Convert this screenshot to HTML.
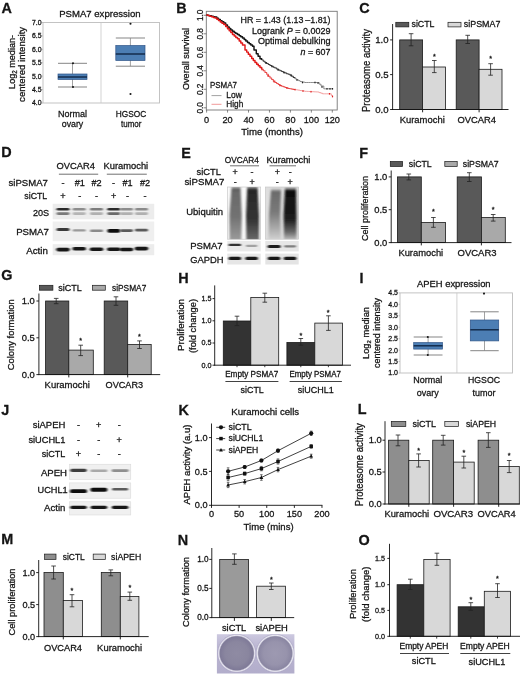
<!DOCTYPE html>
<html lang="en"><head><meta charset="utf-8"><title>Figure</title>
<style>html,body{margin:0;padding:0;background:#fff}svg{display:block}text{font-family:"Liberation Sans",sans-serif;fill:#141414;stroke:#141414;stroke-width:0.28px}</style></head>
<body>
<svg width="520" height="674" viewBox="0 0 520 674">
<rect x="0" y="0" width="520" height="674" fill="#ffffff"/>
<text x="1.50" y="13.00" font-size="14.4" font-weight="bold" fill="#000" stroke="none">A</text>
<text x="59.20" y="16.80" font-size="9.59" textLength="81.40" lengthAdjust="spacingAndGlyphs">PSMA7 expression</text>
<rect x="43.00" y="22.50" width="116.50" height="80.50" fill="#fff" stroke="#bdbdbd" stroke-width="0.9"/>
<line x1="101.00" y1="22.50" x2="101.00" y2="103.00" stroke="#c8c8c8" stroke-width="0.8"/>
<line x1="41.50" y1="22.50" x2="43.00" y2="22.50" stroke="#aaa" stroke-width="0.6"/>
<text x="41.50" y="24.90" font-size="6.87" text-anchor="end" fill="#222">7.0</text>
<line x1="41.50" y1="35.92" x2="43.00" y2="35.92" stroke="#aaa" stroke-width="0.6"/>
<text x="41.50" y="38.32" font-size="6.87" text-anchor="end" fill="#222">6.5</text>
<line x1="41.50" y1="49.33" x2="43.00" y2="49.33" stroke="#aaa" stroke-width="0.6"/>
<text x="41.50" y="51.73" font-size="6.87" text-anchor="end" fill="#222">6.0</text>
<line x1="41.50" y1="62.75" x2="43.00" y2="62.75" stroke="#aaa" stroke-width="0.6"/>
<text x="41.50" y="65.15" font-size="6.87" text-anchor="end" fill="#222">5.5</text>
<line x1="41.50" y1="76.17" x2="43.00" y2="76.17" stroke="#aaa" stroke-width="0.6"/>
<text x="41.50" y="78.57" font-size="6.87" text-anchor="end" fill="#222">5.0</text>
<line x1="41.50" y1="89.58" x2="43.00" y2="89.58" stroke="#aaa" stroke-width="0.6"/>
<text x="41.50" y="91.98" font-size="6.87" text-anchor="end" fill="#222">4.5</text>
<line x1="41.50" y1="103.00" x2="43.00" y2="103.00" stroke="#aaa" stroke-width="0.6"/>
<text x="41.50" y="105.40" font-size="6.87" text-anchor="end" fill="#222">4.0</text>
<line x1="72.50" y1="63.30" x2="72.50" y2="87.00" stroke="#8a8a8a" stroke-width="0.8"/>
<line x1="58.00" y1="63.30" x2="87.00" y2="63.30" stroke="#858585" stroke-width="1.0"/>
<line x1="58.00" y1="87.00" x2="87.00" y2="87.00" stroke="#858585" stroke-width="1.0"/>
<rect x="58.00" y="74.00" width="29.00" height="5.50" fill="#4c7eb4" stroke="#2f5488" stroke-width="0.7"/>
<line x1="58.00" y1="77.00" x2="87.00" y2="77.00" stroke="#0f2646" stroke-width="1.4"/>
<line x1="130.40" y1="38.00" x2="130.40" y2="66.20" stroke="#8a8a8a" stroke-width="0.8"/>
<line x1="115.80" y1="38.00" x2="145.00" y2="38.00" stroke="#858585" stroke-width="1.0"/>
<line x1="115.80" y1="66.20" x2="145.00" y2="66.20" stroke="#858585" stroke-width="1.0"/>
<rect x="115.80" y="45.50" width="29.20" height="15.00" fill="#4c7eb4" stroke="#2f5488" stroke-width="0.7"/>
<line x1="115.80" y1="54.00" x2="145.00" y2="54.00" stroke="#0f2646" stroke-width="1.4"/>
<circle cx="73.00" cy="63.30" r="1.05" fill="#151515"/>
<circle cx="73.00" cy="87.00" r="1.05" fill="#151515"/>
<circle cx="130.50" cy="23.80" r="1.05" fill="#151515"/>
<circle cx="130.50" cy="94.00" r="1.05" fill="#151515"/>
<text x="15.4" y="61.9" font-size="9.4" text-anchor="middle" textLength="54" lengthAdjust="spacingAndGlyphs" transform="rotate(-90 15.4 61.9)">Log<tspan font-size="6.4" dy="1.8">2</tspan><tspan dy="-1.8"> median-</tspan></text>
<text x="25.38" y="64.40" font-size="9.37" text-anchor="middle" textLength="75.00" lengthAdjust="spacingAndGlyphs" transform="rotate(-90 25.38 64.40)">centered intensity</text>
<text x="72.50" y="116.80" font-size="9.59" text-anchor="middle" textLength="29.00" lengthAdjust="spacingAndGlyphs">Normal</text>
<text x="72.50" y="127.20" font-size="9.59" text-anchor="middle" textLength="21.50" lengthAdjust="spacingAndGlyphs">ovary</text>
<text x="131.00" y="116.80" font-size="9.59" text-anchor="middle" textLength="30.50" lengthAdjust="spacingAndGlyphs">HGSOC</text>
<text x="131.20" y="127.20" font-size="9.59" text-anchor="middle" textLength="20.50" lengthAdjust="spacingAndGlyphs">tumor</text>
<text x="176.30" y="13.00" font-size="14.4" font-weight="bold" fill="#000" stroke="none">B</text>
<rect x="206.30" y="11.30" width="130.90" height="98.70" fill="#fff" stroke="#777" stroke-width="0.9"/>
<line x1="203.80" y1="15.30" x2="206.30" y2="15.30" stroke="#555" stroke-width="0.7"/>
<text x="202.76" y="15.30" font-size="9.59" text-anchor="middle" textLength="11.50" lengthAdjust="spacingAndGlyphs" transform="rotate(-90 202.76 15.30)" stroke-width="0.5">1.0</text>
<line x1="203.80" y1="33.80" x2="206.30" y2="33.80" stroke="#555" stroke-width="0.7"/>
<text x="202.76" y="33.80" font-size="9.59" text-anchor="middle" textLength="11.50" lengthAdjust="spacingAndGlyphs" transform="rotate(-90 202.76 33.80)" stroke-width="0.5">0.8</text>
<line x1="203.80" y1="52.30" x2="206.30" y2="52.30" stroke="#555" stroke-width="0.7"/>
<text x="202.76" y="52.30" font-size="9.59" text-anchor="middle" textLength="11.50" lengthAdjust="spacingAndGlyphs" transform="rotate(-90 202.76 52.30)" stroke-width="0.5">0.6</text>
<line x1="203.80" y1="70.80" x2="206.30" y2="70.80" stroke="#555" stroke-width="0.7"/>
<text x="202.76" y="70.80" font-size="9.59" text-anchor="middle" textLength="11.50" lengthAdjust="spacingAndGlyphs" transform="rotate(-90 202.76 70.80)" stroke-width="0.5">0.4</text>
<line x1="203.80" y1="89.30" x2="206.30" y2="89.30" stroke="#555" stroke-width="0.7"/>
<text x="202.76" y="89.30" font-size="9.59" text-anchor="middle" textLength="11.50" lengthAdjust="spacingAndGlyphs" transform="rotate(-90 202.76 89.30)" stroke-width="0.5">0.2</text>
<line x1="203.80" y1="107.80" x2="206.30" y2="107.80" stroke="#555" stroke-width="0.7"/>
<text x="202.76" y="107.80" font-size="9.59" text-anchor="middle" textLength="11.50" lengthAdjust="spacingAndGlyphs" transform="rotate(-90 202.76 107.80)" stroke-width="0.5">0.0</text>
<text x="189.08" y="59.00" font-size="9.37" text-anchor="middle" textLength="62.00" lengthAdjust="spacingAndGlyphs" transform="rotate(-90 189.08 59.00)">Overall survival</text>
<line x1="206.60" y1="110.00" x2="206.60" y2="112.60" stroke="#555" stroke-width="0.7"/>
<text x="206.60" y="122.50" font-size="9.16" text-anchor="middle" stroke-width="0.55">0</text>
<line x1="227.55" y1="110.00" x2="227.55" y2="112.60" stroke="#555" stroke-width="0.7"/>
<text x="227.55" y="122.50" font-size="9.16" text-anchor="middle" stroke-width="0.55">20</text>
<line x1="248.50" y1="110.00" x2="248.50" y2="112.60" stroke="#555" stroke-width="0.7"/>
<text x="248.50" y="122.50" font-size="9.16" text-anchor="middle" stroke-width="0.55">40</text>
<line x1="269.45" y1="110.00" x2="269.45" y2="112.60" stroke="#555" stroke-width="0.7"/>
<text x="269.45" y="122.50" font-size="9.16" text-anchor="middle" stroke-width="0.55">60</text>
<line x1="290.40" y1="110.00" x2="290.40" y2="112.60" stroke="#555" stroke-width="0.7"/>
<text x="290.40" y="122.50" font-size="9.16" text-anchor="middle" stroke-width="0.55">80</text>
<line x1="311.35" y1="110.00" x2="311.35" y2="112.60" stroke="#555" stroke-width="0.7"/>
<text x="311.35" y="122.50" font-size="9.16" text-anchor="middle" stroke-width="0.55">100</text>
<line x1="332.30" y1="110.00" x2="332.30" y2="112.60" stroke="#555" stroke-width="0.7"/>
<text x="332.30" y="122.50" font-size="9.16" text-anchor="middle" stroke-width="0.55">120</text>
<text x="241.30" y="134.50" font-size="9.81" stroke-width="0.55" textLength="61.70" lengthAdjust="spacingAndGlyphs">Time (months)</text>
<text x="330.50" y="23.40" font-size="9.37" text-anchor="end" textLength="90.00" lengthAdjust="spacingAndGlyphs">HR = 1.43 (1.13&#8201;&#8211;1.81)</text>
<text x="330.5" y="33.8" font-size="8.6" text-anchor="end" textLength="78.5" lengthAdjust="spacingAndGlyphs">Logrank <tspan font-style="italic">P</tspan> = 0.0029</text>
<text x="330.50" y="44.00" font-size="9.37" text-anchor="end" textLength="72.50" lengthAdjust="spacingAndGlyphs">Optimal debulking</text>
<text x="330.5" y="54.5" font-size="8.6" text-anchor="end" textLength="30" lengthAdjust="spacingAndGlyphs"><tspan font-style="italic">n</tspan> = 607</text>
<text x="210.00" y="88.20" font-size="9.37" textLength="27.00" lengthAdjust="spacingAndGlyphs">PSMA7</text>
<text x="226.30" y="98.00" font-size="9.37" textLength="15.50" lengthAdjust="spacingAndGlyphs">Low</text>
<text x="226.30" y="107.20" font-size="9.37" textLength="17.00" lengthAdjust="spacingAndGlyphs">High</text>
<line x1="211.50" y1="95.60" x2="221.50" y2="95.60" stroke="#8a8a8a" stroke-width="0.8"/>
<line x1="211.50" y1="104.30" x2="221.50" y2="104.30" stroke="#ee8080" stroke-width="0.8"/>
<path d="M206.3,15.0 H208.0 V15.4 H209.8 V15.8 H211.5 V16.2 H213.3 V16.6 H215.0 V17.0 H216.8 V18.2 H218.5 V19.4 H220.3 V20.6 H222.0 V21.8 H223.8 V23.0 H225.7 V25.0 H227.5 V27.0 H229.2 V28.4 H230.8 V29.9 H232.5 V31.3 H234.2 V32.4 H235.8 V33.4 H237.5 V34.5 H239.2 V35.7 H240.8 V36.8 H242.5 V38.0 H244.2 V39.5 H245.8 V41.0 H247.5 V42.5 H249.2 V43.8 H250.8 V45.0 H252.5 V46.3 H254.0 V50.0 H256.3 V53.8 H258.1 V56.3 H260.0 V58.8 H261.7 V60.0" fill="none" stroke="#141414" stroke-width="1.45" stroke-linejoin="round"/>
<path d="M261.7,60.0 H263.3 V61.3 H265.0 V62.5 H266.7 V63.5 H268.3 V64.5 H270.0 V65.5 H271.7 V66.3 H273.3 V67.2 H275.0 V68.0 H276.7 V68.9 H278.3 V69.9 H280.0 V70.8 H281.7 V71.5 H283.3 V72.3 H285.0 V73.0 H286.7 V73.7 H288.3 V74.3 H290.0 V75.0 H291.7 V76.3 H293.3 V77.5 H295.0 V78.8" fill="none" stroke="#3a3a3a" stroke-width="1.05" stroke-linejoin="round"/>
<path d="M295.0,78.8 H296.7 V79.7 H298.3 V80.6 H300.0 V81.5 H301.7 V81.8 H303.3 V82.2 H305.0 V82.5 H306.8 V82.5 H308.6 V82.5 H310.4 V82.5 H312.1 V82.5 H313.9 V82.5 H315.7 V82.5 H317.5 V82.5 H319.2 V84.2 H321.0 V86.0 H323.8 V88.8 H325.5 V88.8 H327.3 V88.8 H329.0 V88.8 H330.8 V88.8 H332.5 V88.8" fill="none" stroke="#6e6e6e" stroke-width="0.8" stroke-linejoin="round"/>
<path d="M206.3,15.0 H208.0 V15.6 H209.8 V16.2 H211.5 V16.8 H213.3 V17.4 H215.0 V18.0 H216.8 V19.3 H218.5 V20.6 H220.3 V21.9 H222.0 V23.2 H223.8 V24.5 H225.7 V26.6 H227.5 V28.8 H229.2 V30.7 H230.8 V32.6 H232.5 V34.5 H234.2 V35.9 H235.8 V37.4 H237.5 V38.8 H239.2 V40.9 H240.8 V42.9 H242.5 V45.0 H245.0 V50.0 H246.7 V52.1 H248.3 V54.2 H250.0 V56.3 H251.7 V58.4 H253.3 V60.4 H255.0 V62.5 H256.7 V64.2 H258.3 V65.8 H260.0 V67.5 H261.7 V69.2" fill="none" stroke="#e01818" stroke-width="1.45" stroke-linejoin="round"/>
<path d="M261.7,69.2 H263.3 V70.8 H265.0 V72.5 H266.7 V74.3 H268.3 V76.2 H270.0 V78.0 H271.7 V79.5 H273.3 V81.0 H275.0 V82.5 H276.7 V83.5 H278.3 V84.5 H280.0 V85.5 H281.7 V86.2 H283.3 V86.8 H285.0 V87.5 H286.7 V87.9 H288.3 V88.4 H290.0 V88.8 H291.7 V89.1 H293.3 V89.4 H295.0 V89.7" fill="none" stroke="#e84a4a" stroke-width="1.05" stroke-linejoin="round"/>
<path d="M295.0,89.7 H296.7 V89.9 H298.3 V90.2 H300.0 V90.5 H301.7 V90.8 H303.3 V91.0 H305.0 V91.3 H306.8 V91.4 H308.6 V91.5 H310.4 V91.6 H312.1 V91.7 H313.9 V91.8 H315.7 V91.9 H317.5 V92.0 H319.2 V92.6 H320.8 V93.2 H322.5 V93.8 H324.4 V93.8 H326.2 V93.8 H328.1 V93.8 H330.0 V93.8 H331.3 V95.5 H332.5 V97.2" fill="none" stroke="#f08c8c" stroke-width="0.8" stroke-linejoin="round"/>
<rect x="265.4" y="62.4" width="1.2" height="1.6" fill="#222"/>
<rect x="271.4" y="65.7" width="1.2" height="1.6" fill="#222"/>
<rect x="277.4" y="69.0" width="1.2" height="1.6" fill="#222"/>
<rect x="283.4" y="71.8" width="1.2" height="1.6" fill="#222"/>
<rect x="290.4" y="74.7" width="1.2" height="1.6" fill="#222"/>
<rect x="296.4" y="79.2" width="1.2" height="1.6" fill="#222"/>
<rect x="301.9" y="81.7" width="1.2" height="1.6" fill="#222"/>
<rect x="314.4" y="81.7" width="1.2" height="1.6" fill="#222"/>
<rect x="317.4" y="82.2" width="1.2" height="1.6" fill="#222"/>
<rect x="321.4" y="86.2" width="1.2" height="1.6" fill="#222"/>
<rect x="326.4" y="88.0" width="1.2" height="1.6" fill="#222"/>
<rect x="329.4" y="88.0" width="1.2" height="1.6" fill="#222"/>
<rect x="331.9" y="88.0" width="1.2" height="1.6" fill="#222"/>
<rect x="261.4" y="68.7" width="1.2" height="1.6" fill="#e02020"/>
<rect x="267.4" y="75.0" width="1.2" height="1.6" fill="#e02020"/>
<rect x="273.4" y="80.8" width="1.2" height="1.6" fill="#e02020"/>
<rect x="279.4" y="84.7" width="1.2" height="1.6" fill="#e02020"/>
<rect x="286.4" y="87.2" width="1.2" height="1.6" fill="#e02020"/>
<rect x="294.4" y="88.8" width="1.2" height="1.6" fill="#e02020"/>
<rect x="302.4" y="90.2" width="1.2" height="1.6" fill="#e02020"/>
<rect x="310.4" y="90.9" width="1.2" height="1.6" fill="#e02020"/>
<rect x="328.9" y="93.0" width="1.2" height="1.6" fill="#e02020"/>
<rect x="331.9" y="95.7" width="1.2" height="1.6" fill="#e02020"/>
<text x="359.30" y="13.30" font-size="14.4" font-weight="bold" fill="#000" stroke="none">C</text>
<rect x="399.70" y="39.90" width="22.90" height="69.60" fill="#595959" stroke="#1a1a1a" stroke-width="0.8"/>
<rect x="422.60" y="67.00" width="22.90" height="42.50" fill="#d8d8d8" stroke="#1a1a1a" stroke-width="0.8"/>
<rect x="456.20" y="39.90" width="22.90" height="69.60" fill="#595959" stroke="#1a1a1a" stroke-width="0.8"/>
<rect x="479.10" y="69.30" width="22.90" height="40.20" fill="#d8d8d8" stroke="#1a1a1a" stroke-width="0.8"/>
<line x1="411.10" y1="33.70" x2="411.10" y2="45.80" stroke="#222" stroke-width="0.8"/>
<line x1="408.80" y1="33.70" x2="413.40" y2="33.70" stroke="#222" stroke-width="0.8"/>
<line x1="408.80" y1="45.80" x2="413.40" y2="45.80" stroke="#222" stroke-width="0.8"/>
<line x1="434.30" y1="60.50" x2="434.30" y2="72.60" stroke="#222" stroke-width="0.8"/>
<line x1="432.00" y1="60.50" x2="436.60" y2="60.50" stroke="#222" stroke-width="0.8"/>
<line x1="432.00" y1="72.60" x2="436.60" y2="72.60" stroke="#222" stroke-width="0.8"/>
<line x1="467.70" y1="35.30" x2="467.70" y2="43.50" stroke="#222" stroke-width="0.8"/>
<line x1="465.40" y1="35.30" x2="470.00" y2="35.30" stroke="#222" stroke-width="0.8"/>
<line x1="465.40" y1="43.50" x2="470.00" y2="43.50" stroke="#222" stroke-width="0.8"/>
<line x1="490.60" y1="63.70" x2="490.60" y2="75.20" stroke="#222" stroke-width="0.8"/>
<line x1="488.30" y1="63.70" x2="492.90" y2="63.70" stroke="#222" stroke-width="0.8"/>
<line x1="488.30" y1="75.20" x2="492.90" y2="75.20" stroke="#222" stroke-width="0.8"/>
<text x="434.30" y="59.09" font-size="7.19" text-anchor="middle">*</text>
<text x="490.60" y="61.29" font-size="7.19" text-anchor="middle">*</text>
<line x1="422.60" y1="109.50" x2="422.60" y2="112.30" stroke="#111" stroke-width="0.9"/>
<line x1="479.10" y1="109.50" x2="479.10" y2="112.30" stroke="#111" stroke-width="0.9"/>
<line x1="392.60" y1="24.00" x2="392.60" y2="109.95" stroke="#111" stroke-width="0.9"/>
<line x1="392.15" y1="109.50" x2="508.50" y2="109.50" stroke="#111" stroke-width="0.9"/>
<line x1="390.10" y1="39.90" x2="392.60" y2="39.90" stroke="#111" stroke-width="0.9"/>
<text x="388.60" y="43.07" font-size="9.59" text-anchor="end" stroke-width="0.55">1.0</text>
<line x1="390.10" y1="74.60" x2="392.60" y2="74.60" stroke="#111" stroke-width="0.9"/>
<text x="388.60" y="77.77" font-size="9.59" text-anchor="end" stroke-width="0.55">0.5</text>
<line x1="390.10" y1="109.50" x2="392.60" y2="109.50" stroke="#111" stroke-width="0.9"/>
<text x="388.60" y="112.67" font-size="9.59" text-anchor="end" stroke-width="0.55">0.0</text>
<rect x="395.80" y="22.30" width="13.00" height="4.60" fill="#595959" stroke="#1a1a1a" stroke-width="0.7"/>
<text x="411.50" y="27.20" font-size="9.37" stroke-width="0.42" textLength="23.00" lengthAdjust="spacingAndGlyphs">siCTL</text>
<rect x="448.00" y="22.30" width="13.00" height="4.60" fill="#d8d8d8" stroke="#1a1a1a" stroke-width="0.7"/>
<text x="463.80" y="27.20" font-size="9.37" stroke-width="0.42" textLength="36.60" lengthAdjust="spacingAndGlyphs">siPSMA7</text>
<text x="369.99" y="70.50" font-size="11.12" text-anchor="middle" textLength="83.00" lengthAdjust="spacingAndGlyphs" transform="rotate(-90 369.99 70.50)">Proteasome activity</text>
<text x="399.70" y="123.30" font-size="9.59" textLength="45.10" lengthAdjust="spacingAndGlyphs">Kuramochi</text>
<text x="457.50" y="123.30" font-size="9.59" textLength="38.50" lengthAdjust="spacingAndGlyphs">OVCAR4</text>
<text x="1.30" y="157.20" font-size="14.4" font-weight="bold" fill="#000" stroke="none">D</text>
<text x="56.60" y="168.70" font-size="9.37" textLength="38.40" lengthAdjust="spacingAndGlyphs">OVCAR4</text>
<text x="103.60" y="168.70" font-size="9.37" textLength="44.60" lengthAdjust="spacingAndGlyphs">Kuramochi</text>
<line x1="58.90" y1="174.20" x2="98.20" y2="174.20" stroke="#333" stroke-width="0.7"/>
<line x1="106.80" y1="174.20" x2="146.80" y2="174.20" stroke="#333" stroke-width="0.7"/>
<text x="8.50" y="186.40" font-size="9.59" stroke-width="0.42" textLength="39.40" lengthAdjust="spacingAndGlyphs">siPSMA7</text>
<text x="24.30" y="198.90" font-size="9.59" stroke-width="0.42" textLength="22.90" lengthAdjust="spacingAndGlyphs">siCTL</text>
<text x="63.00" y="185.90" font-size="9.16" text-anchor="middle" stroke-width="0.55">-</text>
<text x="79.80" y="185.90" font-size="9.16" text-anchor="middle" stroke-width="0.55">#1</text>
<text x="96.50" y="185.90" font-size="9.16" text-anchor="middle" stroke-width="0.55">#2</text>
<text x="113.60" y="185.90" font-size="9.16" text-anchor="middle" stroke-width="0.55">-</text>
<text x="127.60" y="185.90" font-size="9.16" text-anchor="middle" stroke-width="0.55">#1</text>
<text x="145.00" y="185.90" font-size="9.16" text-anchor="middle" stroke-width="0.55">#2</text>
<text x="63.00" y="198.60" font-size="9.16" text-anchor="middle" stroke-width="0.55">+</text>
<text x="79.80" y="198.60" font-size="9.16" text-anchor="middle" stroke-width="0.55">-</text>
<text x="96.50" y="198.60" font-size="9.16" text-anchor="middle" stroke-width="0.55">-</text>
<text x="113.60" y="198.60" font-size="9.16" text-anchor="middle" stroke-width="0.55">+</text>
<text x="127.60" y="198.60" font-size="9.16" text-anchor="middle" stroke-width="0.55">-</text>
<text x="145.00" y="198.60" font-size="9.16" text-anchor="middle" stroke-width="0.55">-</text>
<defs><filter id="b1" x="-20%" y="-100%" width="140%" height="300%"><feGaussianBlur stdDeviation="0.9 0.7"/></filter><filter id="b2" x="-30%" y="-10%" width="160%" height="120%"><feGaussianBlur stdDeviation="1.05 1.6"/></filter><filter id="b3"><feGaussianBlur stdDeviation="0.7"/></filter></defs>
<rect x="52.70" y="203.80" width="101.50" height="15.50" fill="#ececec" stroke="none" stroke-width="0.8"/>
<rect x="56.50" y="208.00" width="13.00" height="2.60" rx="1.30" fill="#2a2a2a" opacity="1" filter="url(#b1)"/>
<rect x="56.50" y="212.30" width="13.00" height="2.60" rx="1.30" fill="#7a7a7a" opacity="1" filter="url(#b1)"/>
<rect x="72.70" y="208.00" width="13.00" height="2.60" rx="1.30" fill="#8c8c8c" opacity="1" filter="url(#b1)"/>
<rect x="72.70" y="212.30" width="13.00" height="2.60" rx="1.30" fill="#b4b4b4" opacity="1" filter="url(#b1)"/>
<rect x="90.00" y="208.00" width="13.00" height="2.60" rx="1.30" fill="#7c7c7c" opacity="1" filter="url(#b1)"/>
<rect x="90.00" y="212.30" width="13.00" height="2.60" rx="1.30" fill="#b0b0b0" opacity="1" filter="url(#b1)"/>
<rect x="107.30" y="208.00" width="13.00" height="2.60" rx="1.30" fill="#2a2a2a" opacity="1" filter="url(#b1)"/>
<rect x="107.30" y="212.30" width="13.00" height="2.60" rx="1.30" fill="#6a6a6a" opacity="1" filter="url(#b1)"/>
<rect x="120.00" y="208.00" width="13.00" height="2.60" rx="1.30" fill="#8c8c8c" opacity="1" filter="url(#b1)"/>
<rect x="120.00" y="212.30" width="13.00" height="2.60" rx="1.30" fill="#b0b0b0" opacity="1" filter="url(#b1)"/>
<rect x="135.00" y="208.00" width="13.00" height="2.60" rx="1.30" fill="#8a8a8a" opacity="1" filter="url(#b1)"/>
<rect x="135.00" y="212.30" width="13.00" height="2.60" rx="1.30" fill="#b0b0b0" opacity="1" filter="url(#b1)"/>
<text x="33.00" y="216.40" font-size="9.59" stroke-width="0.42" textLength="16.20" lengthAdjust="spacingAndGlyphs">20S</text>
<rect x="52.70" y="221.50" width="101.50" height="19.70" fill="#efefef" stroke="none" stroke-width="0.8"/>
<rect x="56.50" y="228.10" width="13.00" height="3.00" rx="1.50" fill="#3a3a3a" opacity="1" filter="url(#b1)"/>
<rect x="72.70" y="229.20" width="13.00" height="2.40" rx="1.20" fill="#9a9a9a" opacity="1" filter="url(#b1)"/>
<rect x="90.00" y="229.60" width="13.00" height="2.40" rx="1.20" fill="#8a8a8a" opacity="1" filter="url(#b1)"/>
<rect x="107.30" y="228.90" width="13.00" height="3.80" rx="1.90" fill="#0c0c0c" opacity="1" filter="url(#b1)"/>
<rect x="120.00" y="229.20" width="13.00" height="2.80" rx="1.40" fill="#5a5a5a" opacity="1" filter="url(#b1)"/>
<rect x="135.00" y="228.80" width="13.00" height="2.80" rx="1.40" fill="#5a5a5a" opacity="1" filter="url(#b1)"/>
<text x="16.20" y="235.20" font-size="9.59" stroke-width="0.42" textLength="32.70" lengthAdjust="spacingAndGlyphs">PSMA7</text>
<rect x="52.70" y="244.20" width="101.50" height="11.00" fill="#ececec" stroke="none" stroke-width="0.8"/>
<rect x="56.25" y="247.80" width="13.50" height="3.60" rx="1.80" fill="#161616" opacity="1" filter="url(#b1)"/>
<rect x="72.45" y="247.00" width="13.50" height="3.60" rx="1.80" fill="#161616" opacity="1" filter="url(#b1)"/>
<rect x="89.75" y="247.40" width="13.50" height="3.60" rx="1.80" fill="#161616" opacity="1" filter="url(#b1)"/>
<rect x="107.05" y="247.40" width="13.50" height="3.60" rx="1.80" fill="#161616" opacity="1" filter="url(#b1)"/>
<rect x="119.75" y="247.70" width="13.50" height="3.60" rx="1.80" fill="#161616" opacity="1" filter="url(#b1)"/>
<rect x="134.75" y="246.80" width="13.50" height="3.60" rx="1.80" fill="#161616" opacity="1" filter="url(#b1)"/>
<text x="26.20" y="253.50" font-size="9.59" stroke-width="0.42" textLength="21.70" lengthAdjust="spacingAndGlyphs">Actin</text>
<text x="181.30" y="158.00" font-size="14.4" font-weight="bold" fill="#000" stroke="none">E</text>
<text x="224.80" y="162.90" font-size="9.05" textLength="34.10" lengthAdjust="spacingAndGlyphs">OVCAR4</text>
<text x="266.40" y="163.10" font-size="9.05" textLength="44.00" lengthAdjust="spacingAndGlyphs">Kuramochi</text>
<line x1="230.00" y1="165.80" x2="259.00" y2="165.80" stroke="#333" stroke-width="0.7"/>
<line x1="269.50" y1="165.80" x2="296.00" y2="165.80" stroke="#333" stroke-width="0.7"/>
<text x="196.60" y="174.90" font-size="9.37" stroke-width="0.42" textLength="24.30" lengthAdjust="spacingAndGlyphs">siCTL</text>
<text x="184.50" y="185.30" font-size="9.37" stroke-width="0.42" textLength="39.80" lengthAdjust="spacingAndGlyphs">siPSMA7</text>
<text x="235.20" y="174.70" font-size="8.94" text-anchor="middle" stroke-width="0.55">+</text>
<text x="252.00" y="174.70" font-size="8.94" text-anchor="middle" stroke-width="0.55">-</text>
<text x="277.30" y="174.70" font-size="8.94" text-anchor="middle" stroke-width="0.55">+</text>
<text x="290.20" y="174.70" font-size="8.94" text-anchor="middle" stroke-width="0.55">-</text>
<text x="235.20" y="185.10" font-size="8.94" text-anchor="middle" stroke-width="0.55">-</text>
<text x="252.00" y="185.10" font-size="8.94" text-anchor="middle" stroke-width="0.55">+</text>
<text x="277.30" y="185.10" font-size="8.94" text-anchor="middle" stroke-width="0.55">-</text>
<text x="290.20" y="185.10" font-size="8.94" text-anchor="middle" stroke-width="0.55">+</text>
<defs><linearGradient id="u1" x1="0" y1="0" x2="0" y2="1"><stop offset="0" stop-color="#4a4a4a"/><stop offset="0.08" stop-color="#6a6a6a"/><stop offset="0.55" stop-color="#727272"/><stop offset="1" stop-color="#9c9c9c"/></linearGradient><linearGradient id="u2" x1="0" y1="0" x2="0" y2="1"><stop offset="0" stop-color="#262626"/><stop offset="0.6" stop-color="#343434"/><stop offset="1" stop-color="#6c6c6c"/></linearGradient><linearGradient id="u3" x1="0" y1="0" x2="0" y2="1"><stop offset="0" stop-color="#6a6a6a"/><stop offset="0.45" stop-color="#7a7a7a"/><stop offset="0.8" stop-color="#b0b0b0"/><stop offset="1" stop-color="#d2d2d2"/></linearGradient><linearGradient id="u4" x1="0" y1="0" x2="0" y2="1"><stop offset="0" stop-color="#0e0e0e"/><stop offset="0.6" stop-color="#1c1c1c"/><stop offset="0.85" stop-color="#6a6a6a"/><stop offset="1" stop-color="#c0c0c0"/></linearGradient><clipPath id="cu1"><rect x="227.3" y="187" width="33.4" height="52.2"/></clipPath><clipPath id="cu2"><rect x="265.3" y="187" width="33.4" height="52.2"/></clipPath></defs>
<rect x="227.30" y="187.00" width="33.40" height="52.20" fill="#fafafa" stroke="#c4c4c4" stroke-width="0.6"/>
<g clip-path="url(#cu1)"><path d="M231.5,187.5 L240.5,187.5 L241.8,215 L241.3,241 L229.6,241 L229.4,215 Z" fill="url(#u1)" filter="url(#b2)"/><path d="M247.2,187.5 L257.6,187.5 L259,215 L259,241 L246.4,241 L246,215 Z" fill="url(#u2)" filter="url(#b2)"/></g>
<rect x="265.30" y="187.00" width="33.40" height="52.20" fill="#dedede" stroke="#c4c4c4" stroke-width="0.6"/>
<g clip-path="url(#cu2)"><path d="M271,190 L281,190 L280.3,215 L281,240 L268.5,240 L269,215 Z" fill="url(#u3)" filter="url(#b2)"/><path d="M285,189 L296,189 L296.5,215 L296.5,240 L284,240 L283.6,215 Z" fill="url(#u4)" filter="url(#b2)"/></g>
<text x="186.20" y="214.80" font-size="9.59" stroke-width="0.42" textLength="36.90" lengthAdjust="spacingAndGlyphs">Ubiquitin</text>
<rect x="227.30" y="240.90" width="33.40" height="10.50" fill="#e9e9e9" stroke="none" stroke-width="0.8"/>
<rect x="265.30" y="240.90" width="33.40" height="10.50" fill="#e6e6e6" stroke="none" stroke-width="0.8"/>
<rect x="228.55" y="243.70" width="12.50" height="2.40" rx="1.20" fill="#333" opacity="1" filter="url(#b1)"/>
<rect x="245.85" y="244.70" width="11.50" height="2.20" rx="1.10" fill="#a2a2a2" opacity="1" filter="url(#b1)"/>
<rect x="267.60" y="245.10" width="13.00" height="3.00" rx="1.50" fill="#1c1c1c" opacity="1" filter="url(#b1)"/>
<rect x="284.10" y="245.20" width="12.00" height="2.20" rx="1.10" fill="#808080" opacity="1" filter="url(#b1)"/>
<text x="190.20" y="249.40" font-size="9.59" stroke-width="0.42" textLength="32.40" lengthAdjust="spacingAndGlyphs">PSMA7</text>
<rect x="227.30" y="253.60" width="33.40" height="10.90" fill="#e6e6e6" stroke="none" stroke-width="0.8"/>
<rect x="265.30" y="253.60" width="33.40" height="10.90" fill="#e4e4e4" stroke="none" stroke-width="0.8"/>
<rect x="228.55" y="256.80" width="12.50" height="3.20" rx="1.60" fill="#161616" opacity="1" filter="url(#b1)"/>
<rect x="245.35" y="256.80" width="12.50" height="3.20" rx="1.60" fill="#161616" opacity="1" filter="url(#b1)"/>
<rect x="267.85" y="256.80" width="12.50" height="3.20" rx="1.60" fill="#161616" opacity="1" filter="url(#b1)"/>
<rect x="283.85" y="256.80" width="12.50" height="3.20" rx="1.60" fill="#161616" opacity="1" filter="url(#b1)"/>
<text x="190.20" y="263.20" font-size="9.59" stroke-width="0.42" textLength="33.30" lengthAdjust="spacingAndGlyphs">GAPDH</text>
<text x="359.30" y="157.80" font-size="14.4" font-weight="bold" fill="#000" stroke="none">F</text>
<rect x="397.40" y="176.90" width="23.90" height="65.70" fill="#595959" stroke="#1a1a1a" stroke-width="0.8"/>
<rect x="421.30" y="222.40" width="24.20" height="20.20" fill="#a9a9a9" stroke="#1a1a1a" stroke-width="0.8"/>
<rect x="457.20" y="176.90" width="24.20" height="65.70" fill="#595959" stroke="#1a1a1a" stroke-width="0.8"/>
<rect x="481.40" y="217.50" width="23.90" height="25.10" fill="#a9a9a9" stroke="#1a1a1a" stroke-width="0.8"/>
<line x1="408.80" y1="174.00" x2="408.80" y2="179.90" stroke="#222" stroke-width="0.8"/>
<line x1="406.50" y1="174.00" x2="411.10" y2="174.00" stroke="#222" stroke-width="0.8"/>
<line x1="406.50" y1="179.90" x2="411.10" y2="179.90" stroke="#222" stroke-width="0.8"/>
<line x1="433.40" y1="217.50" x2="433.40" y2="227.30" stroke="#222" stroke-width="0.8"/>
<line x1="431.10" y1="217.50" x2="435.70" y2="217.50" stroke="#222" stroke-width="0.8"/>
<line x1="431.10" y1="227.30" x2="435.70" y2="227.30" stroke="#222" stroke-width="0.8"/>
<line x1="469.30" y1="172.70" x2="469.30" y2="181.50" stroke="#222" stroke-width="0.8"/>
<line x1="467.00" y1="172.70" x2="471.60" y2="172.70" stroke="#222" stroke-width="0.8"/>
<line x1="467.00" y1="181.50" x2="471.60" y2="181.50" stroke="#222" stroke-width="0.8"/>
<line x1="493.20" y1="214.50" x2="493.20" y2="221.10" stroke="#222" stroke-width="0.8"/>
<line x1="490.90" y1="214.50" x2="495.50" y2="214.50" stroke="#222" stroke-width="0.8"/>
<line x1="490.90" y1="221.10" x2="495.50" y2="221.10" stroke="#222" stroke-width="0.8"/>
<text x="433.40" y="214.39" font-size="7.19" text-anchor="middle">*</text>
<text x="493.20" y="212.09" font-size="7.19" text-anchor="middle">*</text>
<line x1="421.30" y1="242.60" x2="421.30" y2="245.40" stroke="#111" stroke-width="0.9"/>
<line x1="481.40" y1="242.60" x2="481.40" y2="245.40" stroke="#111" stroke-width="0.9"/>
<line x1="391.20" y1="170.50" x2="391.20" y2="243.05" stroke="#111" stroke-width="0.9"/>
<line x1="390.75" y1="242.60" x2="511.50" y2="242.60" stroke="#111" stroke-width="0.9"/>
<line x1="388.70" y1="176.90" x2="391.20" y2="176.90" stroke="#111" stroke-width="0.9"/>
<text x="387.30" y="180.00" font-size="9.37" text-anchor="end" stroke-width="0.55">1.0</text>
<line x1="388.70" y1="209.70" x2="391.20" y2="209.70" stroke="#111" stroke-width="0.9"/>
<text x="387.30" y="212.80" font-size="9.37" text-anchor="end" stroke-width="0.55">0.5</text>
<line x1="388.70" y1="242.60" x2="391.20" y2="242.60" stroke="#111" stroke-width="0.9"/>
<text x="387.30" y="245.70" font-size="9.37" text-anchor="end" stroke-width="0.55">0.0</text>
<rect x="390.30" y="161.50" width="12.30" height="5.00" fill="#595959" stroke="#1a1a1a" stroke-width="0.7"/>
<text x="408.80" y="167.00" font-size="9.16" stroke-width="0.55" textLength="22.90" lengthAdjust="spacingAndGlyphs">siCTL</text>
<rect x="444.80" y="161.50" width="12.40" height="5.00" fill="#a9a9a9" stroke="#1a1a1a" stroke-width="0.7"/>
<text x="462.80" y="167.00" font-size="9.16" stroke-width="0.55" textLength="35.90" lengthAdjust="spacingAndGlyphs">siPSMA7</text>
<text x="368.16" y="208.60" font-size="9.59" text-anchor="middle" textLength="65.00" lengthAdjust="spacingAndGlyphs" transform="rotate(-90 368.16 208.60)">Cell proliferation</text>
<text x="398.40" y="256.10" font-size="9.59" textLength="44.80" lengthAdjust="spacingAndGlyphs">Kuramochi</text>
<text x="457.50" y="256.10" font-size="9.59" textLength="39.00" lengthAdjust="spacingAndGlyphs">OVCAR3</text>
<text x="1.20" y="280.10" font-size="14.4" font-weight="bold" fill="#000" stroke="none">G</text>
<rect x="45.60" y="301.00" width="23.20" height="73.60" fill="#595959" stroke="#1a1a1a" stroke-width="0.8"/>
<rect x="68.80" y="350.10" width="24.50" height="24.50" fill="#a9a9a9" stroke="#1a1a1a" stroke-width="0.8"/>
<rect x="104.20" y="301.00" width="23.50" height="73.60" fill="#595959" stroke="#1a1a1a" stroke-width="0.8"/>
<rect x="127.70" y="344.50" width="23.50" height="30.10" fill="#a9a9a9" stroke="#1a1a1a" stroke-width="0.8"/>
<line x1="56.20" y1="298.40" x2="56.20" y2="303.70" stroke="#222" stroke-width="0.8"/>
<line x1="53.90" y1="298.40" x2="58.50" y2="298.40" stroke="#222" stroke-width="0.8"/>
<line x1="53.90" y1="303.70" x2="58.50" y2="303.70" stroke="#222" stroke-width="0.8"/>
<line x1="80.70" y1="345.20" x2="80.70" y2="355.60" stroke="#222" stroke-width="0.8"/>
<line x1="78.40" y1="345.20" x2="83.00" y2="345.20" stroke="#222" stroke-width="0.8"/>
<line x1="78.40" y1="355.60" x2="83.00" y2="355.60" stroke="#222" stroke-width="0.8"/>
<line x1="116.00" y1="296.80" x2="116.00" y2="305.30" stroke="#222" stroke-width="0.8"/>
<line x1="113.70" y1="296.80" x2="118.30" y2="296.80" stroke="#222" stroke-width="0.8"/>
<line x1="113.70" y1="305.30" x2="118.30" y2="305.30" stroke="#222" stroke-width="0.8"/>
<line x1="139.50" y1="340.90" x2="139.50" y2="348.50" stroke="#222" stroke-width="0.8"/>
<line x1="137.20" y1="340.90" x2="141.80" y2="340.90" stroke="#222" stroke-width="0.8"/>
<line x1="137.20" y1="348.50" x2="141.80" y2="348.50" stroke="#222" stroke-width="0.8"/>
<text x="80.70" y="342.69" font-size="7.19" text-anchor="middle">*</text>
<text x="139.50" y="338.79" font-size="7.19" text-anchor="middle">*</text>
<line x1="68.80" y1="374.60" x2="68.80" y2="377.40" stroke="#111" stroke-width="0.9"/>
<line x1="127.70" y1="374.60" x2="127.70" y2="377.40" stroke="#111" stroke-width="0.9"/>
<line x1="38.90" y1="293.50" x2="38.90" y2="375.05" stroke="#111" stroke-width="0.9"/>
<line x1="38.45" y1="374.60" x2="160.20" y2="374.60" stroke="#111" stroke-width="0.9"/>
<line x1="36.40" y1="301.00" x2="38.90" y2="301.00" stroke="#111" stroke-width="0.9"/>
<text x="34.80" y="304.10" font-size="9.37" text-anchor="end" stroke-width="0.55">1.0</text>
<line x1="36.40" y1="337.80" x2="38.90" y2="337.80" stroke="#111" stroke-width="0.9"/>
<text x="34.80" y="340.90" font-size="9.37" text-anchor="end" stroke-width="0.55">0.5</text>
<line x1="36.40" y1="374.60" x2="38.90" y2="374.60" stroke="#111" stroke-width="0.9"/>
<text x="34.80" y="377.70" font-size="9.37" text-anchor="end" stroke-width="0.55">0.0</text>
<rect x="39.40" y="285.30" width="13.50" height="4.90" fill="#595959" stroke="#1a1a1a" stroke-width="0.7"/>
<text x="58.20" y="290.50" font-size="9.16" stroke-width="0.55" textLength="23.50" lengthAdjust="spacingAndGlyphs">siCTL</text>
<rect x="92.50" y="285.30" width="12.80" height="4.90" fill="#a9a9a9" stroke="#1a1a1a" stroke-width="0.7"/>
<text x="112.00" y="290.50" font-size="9.16" stroke-width="0.55" textLength="34.30" lengthAdjust="spacingAndGlyphs">siPSMA7</text>
<text x="14.26" y="334.80" font-size="9.59" text-anchor="middle" textLength="71.00" lengthAdjust="spacingAndGlyphs" transform="rotate(-90 14.26 334.80)">Colony formation</text>
<text x="44.60" y="388.00" font-size="9.59" textLength="45.30" lengthAdjust="spacingAndGlyphs">Kuramochi</text>
<text x="105.60" y="388.00" font-size="9.59" textLength="37.50" lengthAdjust="spacingAndGlyphs">OVCAR3</text>
<text x="178.30" y="283.20" font-size="14.4" font-weight="bold" fill="#000" stroke="none">H</text>
<rect x="223.30" y="321.00" width="27.50" height="44.20" fill="#333" stroke="#1a1a1a" stroke-width="0.8"/>
<rect x="250.80" y="297.40" width="27.90" height="67.80" fill="#d8d8d8" stroke="#1a1a1a" stroke-width="0.8"/>
<rect x="286.90" y="342.50" width="27.90" height="22.70" fill="#333" stroke="#1a1a1a" stroke-width="0.8"/>
<rect x="314.80" y="323.10" width="27.80" height="42.10" fill="#d8d8d8" stroke="#1a1a1a" stroke-width="0.8"/>
<line x1="237.00" y1="316.20" x2="237.00" y2="325.60" stroke="#222" stroke-width="0.8"/>
<line x1="234.70" y1="316.20" x2="239.30" y2="316.20" stroke="#222" stroke-width="0.8"/>
<line x1="234.70" y1="325.60" x2="239.30" y2="325.60" stroke="#222" stroke-width="0.8"/>
<line x1="264.80" y1="293.20" x2="264.80" y2="302.20" stroke="#222" stroke-width="0.8"/>
<line x1="262.50" y1="293.20" x2="267.10" y2="293.20" stroke="#222" stroke-width="0.8"/>
<line x1="262.50" y1="302.20" x2="267.10" y2="302.20" stroke="#222" stroke-width="0.8"/>
<line x1="300.80" y1="338.50" x2="300.80" y2="345.20" stroke="#222" stroke-width="0.8"/>
<line x1="298.50" y1="338.50" x2="303.10" y2="338.50" stroke="#222" stroke-width="0.8"/>
<line x1="298.50" y1="345.20" x2="303.10" y2="345.20" stroke="#222" stroke-width="0.8"/>
<line x1="328.40" y1="315.80" x2="328.40" y2="330.40" stroke="#222" stroke-width="0.8"/>
<line x1="326.10" y1="315.80" x2="330.70" y2="315.80" stroke="#222" stroke-width="0.8"/>
<line x1="326.10" y1="330.40" x2="330.70" y2="330.40" stroke="#222" stroke-width="0.8"/>
<text x="300.80" y="338.39" font-size="7.19" text-anchor="middle">*</text>
<text x="328.20" y="314.99" font-size="7.19" text-anchor="middle">*</text>
<line x1="214.70" y1="285.40" x2="214.70" y2="365.65" stroke="#111" stroke-width="0.9"/>
<line x1="214.25" y1="365.20" x2="351.00" y2="365.20" stroke="#111" stroke-width="0.9"/>
<line x1="212.50" y1="298.60" x2="214.70" y2="298.60" stroke="#111" stroke-width="0.9"/>
<text x="211.60" y="300.98" font-size="7.19" text-anchor="end" stroke-width="0.55">1.5</text>
<line x1="212.50" y1="320.80" x2="214.70" y2="320.80" stroke="#111" stroke-width="0.9"/>
<text x="211.60" y="323.18" font-size="7.19" text-anchor="end" stroke-width="0.55">1.0</text>
<line x1="212.50" y1="343.00" x2="214.70" y2="343.00" stroke="#111" stroke-width="0.9"/>
<text x="211.60" y="345.38" font-size="7.19" text-anchor="end" stroke-width="0.55">0.5</text>
<line x1="212.50" y1="365.20" x2="214.70" y2="365.20" stroke="#111" stroke-width="0.9"/>
<text x="211.60" y="367.58" font-size="7.19" text-anchor="end" stroke-width="0.55">0.0</text>
<line x1="237.00" y1="365.20" x2="237.00" y2="367.20" stroke="#111" stroke-width="0.8"/>
<line x1="264.80" y1="365.20" x2="264.80" y2="367.20" stroke="#111" stroke-width="0.8"/>
<line x1="300.80" y1="365.20" x2="300.80" y2="367.20" stroke="#111" stroke-width="0.8"/>
<line x1="328.40" y1="365.20" x2="328.40" y2="367.20" stroke="#111" stroke-width="0.8"/>
<text x="183.61" y="325.00" font-size="9.16" text-anchor="middle" textLength="52.00" lengthAdjust="spacingAndGlyphs" transform="rotate(-90 183.61 325.00)">Proliferation</text>
<text x="195.61" y="326.00" font-size="9.16" text-anchor="middle" textLength="54.00" lengthAdjust="spacingAndGlyphs" transform="rotate(-90 195.61 326.00)">(fold change)</text>
<text x="225.20" y="377.20" font-size="8.28" textLength="53.00" lengthAdjust="spacingAndGlyphs">Empty PSMA7</text>
<line x1="225.40" y1="381.50" x2="278.40" y2="381.50" stroke="#111" stroke-width="0.8"/>
<text x="252.20" y="392.70" font-size="9.16" text-anchor="middle" textLength="23.20" lengthAdjust="spacingAndGlyphs">siCTL</text>
<text x="289.40" y="377.20" font-size="8.28" textLength="51.50" lengthAdjust="spacingAndGlyphs">Empty PSMA7</text>
<line x1="289.60" y1="381.50" x2="341.90" y2="381.50" stroke="#111" stroke-width="0.8"/>
<text x="315.80" y="392.70" font-size="9.16" text-anchor="middle" textLength="35.90" lengthAdjust="spacingAndGlyphs">siUCHL1</text>
<text x="359.60" y="282.60" font-size="14.4" font-weight="bold" fill="#000" stroke="none">I</text>
<text x="417.00" y="287.10" font-size="9.59" textLength="73.60" lengthAdjust="spacingAndGlyphs">APEH expression</text>
<rect x="400.00" y="292.90" width="112.50" height="80.10" fill="#fff" stroke="#bdbdbd" stroke-width="0.9"/>
<line x1="456.90" y1="292.90" x2="456.90" y2="373.00" stroke="#c8c8c8" stroke-width="0.8"/>
<line x1="398.50" y1="292.90" x2="400.00" y2="292.90" stroke="#aaa" stroke-width="0.6"/>
<text x="398.00" y="295.30" font-size="6.98" text-anchor="end" fill="#222">4.5</text>
<line x1="398.50" y1="304.34" x2="400.00" y2="304.34" stroke="#aaa" stroke-width="0.6"/>
<text x="398.00" y="306.74" font-size="6.98" text-anchor="end" fill="#222">4.0</text>
<line x1="398.50" y1="315.79" x2="400.00" y2="315.79" stroke="#aaa" stroke-width="0.6"/>
<text x="398.00" y="318.19" font-size="6.98" text-anchor="end" fill="#222">3.5</text>
<line x1="398.50" y1="327.23" x2="400.00" y2="327.23" stroke="#aaa" stroke-width="0.6"/>
<text x="398.00" y="329.63" font-size="6.98" text-anchor="end" fill="#222">3.0</text>
<line x1="398.50" y1="338.67" x2="400.00" y2="338.67" stroke="#aaa" stroke-width="0.6"/>
<text x="398.00" y="341.07" font-size="6.98" text-anchor="end" fill="#222">2.5</text>
<line x1="398.50" y1="350.11" x2="400.00" y2="350.11" stroke="#aaa" stroke-width="0.6"/>
<text x="398.00" y="352.51" font-size="6.98" text-anchor="end" fill="#222">2.0</text>
<line x1="398.50" y1="361.56" x2="400.00" y2="361.56" stroke="#aaa" stroke-width="0.6"/>
<text x="398.00" y="363.96" font-size="6.98" text-anchor="end" fill="#222">1.5</text>
<line x1="398.50" y1="373.00" x2="400.00" y2="373.00" stroke="#aaa" stroke-width="0.6"/>
<text x="398.00" y="375.40" font-size="6.98" text-anchor="end" fill="#222">1.0</text>
<line x1="428.10" y1="337.00" x2="428.10" y2="355.00" stroke="#8a8a8a" stroke-width="0.8"/>
<line x1="413.70" y1="337.00" x2="442.50" y2="337.00" stroke="#858585" stroke-width="1.0"/>
<line x1="413.70" y1="355.00" x2="442.50" y2="355.00" stroke="#858585" stroke-width="1.0"/>
<rect x="413.70" y="342.60" width="28.80" height="6.50" fill="#4c7eb4" stroke="#2f5488" stroke-width="0.7"/>
<line x1="413.70" y1="345.80" x2="442.50" y2="345.80" stroke="#0f2646" stroke-width="1.4"/>
<line x1="484.50" y1="311.80" x2="484.50" y2="350.70" stroke="#8a8a8a" stroke-width="0.8"/>
<line x1="470.30" y1="311.80" x2="498.70" y2="311.80" stroke="#858585" stroke-width="1.0"/>
<line x1="470.30" y1="350.70" x2="498.70" y2="350.70" stroke="#858585" stroke-width="1.0"/>
<rect x="470.30" y="320.00" width="28.40" height="20.90" fill="#4c7eb4" stroke="#2f5488" stroke-width="0.7"/>
<line x1="470.30" y1="329.80" x2="498.70" y2="329.80" stroke="#0f2646" stroke-width="1.4"/>
<circle cx="427.80" cy="337.00" r="1.05" fill="#151515"/>
<circle cx="427.80" cy="355.00" r="1.05" fill="#151515"/>
<circle cx="484.00" cy="293.60" r="1.05" fill="#151515"/>
<text x="369.3" y="333" font-size="9.2" stroke-width="0.5" text-anchor="middle" textLength="52" lengthAdjust="spacingAndGlyphs" transform="rotate(-90 369.3 333)">Log<tspan font-size="5.8" dy="1.8">2</tspan><tspan dy="-1.8"> median</tspan></text>
<text x="380.11" y="333.00" font-size="9.16" text-anchor="middle" textLength="70.00" lengthAdjust="spacingAndGlyphs" transform="rotate(-90 380.11 333.00)">centered intensity</text>
<text x="427.80" y="382.90" font-size="9.59" text-anchor="middle" textLength="29.00" lengthAdjust="spacingAndGlyphs">Normal</text>
<text x="427.80" y="396.00" font-size="9.59" text-anchor="middle" textLength="22.00" lengthAdjust="spacingAndGlyphs">ovary</text>
<text x="484.00" y="382.90" font-size="9.59" text-anchor="middle" textLength="32.00" lengthAdjust="spacingAndGlyphs">HGSOC</text>
<text x="484.00" y="396.00" font-size="9.59" text-anchor="middle" textLength="23.00" lengthAdjust="spacingAndGlyphs">tumor</text>
<text x="1.30" y="414.80" font-size="14.4" font-weight="bold" fill="#000" stroke="none">J</text>
<text x="32.70" y="427.90" font-size="9.37" stroke-width="0.42" textLength="32.70" lengthAdjust="spacingAndGlyphs">siAPEH</text>
<text x="28.40" y="443.30" font-size="9.37" stroke-width="0.42" textLength="37.00" lengthAdjust="spacingAndGlyphs">siUCHL1</text>
<text x="41.80" y="457.30" font-size="9.37" stroke-width="0.42" textLength="23.60" lengthAdjust="spacingAndGlyphs">siCTL</text>
<text x="78.50" y="427.60" font-size="9.16" text-anchor="middle" stroke-width="0.55">-</text>
<text x="98.70" y="427.60" font-size="9.16" text-anchor="middle" stroke-width="0.55">+</text>
<text x="119.30" y="427.60" font-size="9.16" text-anchor="middle" stroke-width="0.55">-</text>
<text x="78.50" y="443.00" font-size="9.16" text-anchor="middle" stroke-width="0.55">-</text>
<text x="98.70" y="443.00" font-size="9.16" text-anchor="middle" stroke-width="0.55">-</text>
<text x="119.30" y="443.00" font-size="9.16" text-anchor="middle" stroke-width="0.55">+</text>
<text x="78.50" y="457.00" font-size="9.16" text-anchor="middle" stroke-width="0.55">+</text>
<text x="98.70" y="457.00" font-size="9.16" text-anchor="middle" stroke-width="0.55">-</text>
<text x="119.30" y="457.00" font-size="9.16" text-anchor="middle" stroke-width="0.55">-</text>
<rect x="69.60" y="464.20" width="61.20" height="15.40" fill="#f0f0f0" stroke="#d6d6d6" stroke-width="0.5"/>
<rect x="70.25" y="468.70" width="16.50" height="3.20" rx="1.60" fill="#3c3c3c" opacity="1" filter="url(#b1)"/>
<rect x="90.40" y="469.60" width="17.00" height="2.40" rx="1.20" fill="#a8a8a8" opacity="1" filter="url(#b1)"/>
<rect x="111.60" y="469.30" width="17.00" height="2.60" rx="1.30" fill="#8e8e8e" opacity="1" filter="url(#b1)"/>
<text x="40.90" y="475.90" font-size="9.37" stroke-width="0.42" textLength="26.10" lengthAdjust="spacingAndGlyphs">APEH</text>
<rect x="69.60" y="482.90" width="61.20" height="15.30" fill="#f0f0f0" stroke="#d6d6d6" stroke-width="0.5"/>
<rect x="70.00" y="489.30" width="17.00" height="3.80" rx="1.90" fill="#0c0c0c" opacity="1" filter="url(#b1)"/>
<rect x="90.40" y="487.80" width="17.00" height="4.00" rx="2.00" fill="#0c0c0c" opacity="1" filter="url(#b1)"/>
<rect x="112.10" y="488.00" width="16.00" height="2.40" rx="1.20" fill="#5c5c5c" opacity="1" filter="url(#b1)"/>
<text x="37.60" y="493.30" font-size="9.37" stroke-width="0.42" textLength="30.10" lengthAdjust="spacingAndGlyphs">UCHL1</text>
<rect x="69.60" y="501.80" width="61.20" height="13.20" fill="#f0f0f0" stroke="#d6d6d6" stroke-width="0.5"/>
<rect x="70.25" y="505.70" width="16.50" height="3.20" rx="1.60" fill="#141414" opacity="1" filter="url(#b1)"/>
<rect x="90.65" y="505.70" width="16.50" height="3.20" rx="1.60" fill="#141414" opacity="1" filter="url(#b1)"/>
<rect x="111.85" y="505.70" width="16.50" height="3.20" rx="1.60" fill="#141414" opacity="1" filter="url(#b1)"/>
<text x="44.10" y="511.20" font-size="9.37" stroke-width="0.42" textLength="21.30" lengthAdjust="spacingAndGlyphs">Actin</text>
<text x="178.60" y="415.00" font-size="14.4" font-weight="bold" fill="#000" stroke="none">K</text>
<text x="231.30" y="414.80" font-size="9.37" textLength="67.80" lengthAdjust="spacingAndGlyphs">Kuramochi cells</text>
<line x1="211.50" y1="423.50" x2="211.50" y2="505.75" stroke="#111" stroke-width="0.9"/>
<line x1="211.05" y1="505.30" x2="322.40" y2="505.30" stroke="#111" stroke-width="0.9"/>
<line x1="209.00" y1="437.60" x2="211.50" y2="437.60" stroke="#111" stroke-width="0.9"/>
<text x="207.60" y="440.70" font-size="9.16" text-anchor="end" stroke-width="0.55">1.0</text>
<line x1="209.00" y1="471.40" x2="211.50" y2="471.40" stroke="#111" stroke-width="0.9"/>
<text x="207.60" y="474.50" font-size="9.16" text-anchor="end" stroke-width="0.55">0.5</text>
<line x1="209.00" y1="505.30" x2="211.50" y2="505.30" stroke="#111" stroke-width="0.9"/>
<text x="207.60" y="508.40" font-size="9.16" text-anchor="end" stroke-width="0.55">0.0</text>
<line x1="211.50" y1="505.30" x2="211.50" y2="507.90" stroke="#111" stroke-width="0.9"/>
<text x="211.50" y="517.20" font-size="9.16" text-anchor="middle" stroke-width="0.42">0</text>
<line x1="239.12" y1="505.30" x2="239.12" y2="507.90" stroke="#111" stroke-width="0.9"/>
<text x="239.12" y="517.20" font-size="9.16" text-anchor="middle" stroke-width="0.42">50</text>
<line x1="266.74" y1="505.30" x2="266.74" y2="507.90" stroke="#111" stroke-width="0.9"/>
<text x="266.74" y="517.20" font-size="9.16" text-anchor="middle" stroke-width="0.42">100</text>
<line x1="294.36" y1="505.30" x2="294.36" y2="507.90" stroke="#111" stroke-width="0.9"/>
<text x="294.36" y="517.20" font-size="9.16" text-anchor="middle" stroke-width="0.42">150</text>
<line x1="321.98" y1="505.30" x2="321.98" y2="507.90" stroke="#111" stroke-width="0.9"/>
<text x="321.98" y="517.20" font-size="9.16" text-anchor="middle" stroke-width="0.42">200</text>
<text x="243.60" y="530.20" font-size="9.59" stroke-width="0.42" textLength="50.00" lengthAdjust="spacingAndGlyphs">Time (mins)</text>
<text x="190.38" y="464.50" font-size="9.37" text-anchor="middle" textLength="80.00" lengthAdjust="spacingAndGlyphs" transform="rotate(-90 190.38 464.50)">APEH activity (a.u)</text>
<polyline points="228.1,471.3 244.7,467.0 261.4,460.5 278.0,450.7 311.2,433.3" fill="none" stroke="#111" stroke-width="0.8"/>
<line x1="228.10" y1="467.80" x2="228.10" y2="474.80" stroke="#222" stroke-width="0.6"/>
<line x1="226.80" y1="467.80" x2="229.40" y2="467.80" stroke="#222" stroke-width="0.6"/>
<line x1="226.80" y1="474.80" x2="229.40" y2="474.80" stroke="#222" stroke-width="0.6"/>
<circle cx="228.1" cy="471.3" r="2.1" fill="#111"/>
<line x1="244.70" y1="465.50" x2="244.70" y2="468.50" stroke="#222" stroke-width="0.6"/>
<line x1="243.40" y1="465.50" x2="246.00" y2="465.50" stroke="#222" stroke-width="0.6"/>
<line x1="243.40" y1="468.50" x2="246.00" y2="468.50" stroke="#222" stroke-width="0.6"/>
<circle cx="244.7" cy="467.0" r="2.1" fill="#111"/>
<line x1="261.40" y1="459.00" x2="261.40" y2="462.00" stroke="#222" stroke-width="0.6"/>
<line x1="260.10" y1="459.00" x2="262.70" y2="459.00" stroke="#222" stroke-width="0.6"/>
<line x1="260.10" y1="462.00" x2="262.70" y2="462.00" stroke="#222" stroke-width="0.6"/>
<circle cx="261.4" cy="460.5" r="2.1" fill="#111"/>
<line x1="278.00" y1="449.20" x2="278.00" y2="452.20" stroke="#222" stroke-width="0.6"/>
<line x1="276.70" y1="449.20" x2="279.30" y2="449.20" stroke="#222" stroke-width="0.6"/>
<line x1="276.70" y1="452.20" x2="279.30" y2="452.20" stroke="#222" stroke-width="0.6"/>
<circle cx="278.0" cy="450.7" r="2.1" fill="#111"/>
<line x1="311.20" y1="431.10" x2="311.20" y2="435.50" stroke="#222" stroke-width="0.6"/>
<line x1="309.90" y1="431.10" x2="312.50" y2="431.10" stroke="#222" stroke-width="0.6"/>
<line x1="309.90" y1="435.50" x2="312.50" y2="435.50" stroke="#222" stroke-width="0.6"/>
<circle cx="311.2" cy="433.3" r="2.1" fill="#111"/>
<polyline points="228.1,477.5 244.7,473.6 261.4,468.6 278.0,461.5 311.2,446.4" fill="none" stroke="#111" stroke-width="0.8"/>
<line x1="228.10" y1="474.30" x2="228.10" y2="480.70" stroke="#222" stroke-width="0.6"/>
<line x1="226.80" y1="474.30" x2="229.40" y2="474.30" stroke="#222" stroke-width="0.6"/>
<line x1="226.80" y1="480.70" x2="229.40" y2="480.70" stroke="#222" stroke-width="0.6"/>
<rect x="226.35" y="475.75" width="3.5" height="3.5" fill="#111"/>
<line x1="244.70" y1="472.10" x2="244.70" y2="475.10" stroke="#222" stroke-width="0.6"/>
<line x1="243.40" y1="472.10" x2="246.00" y2="472.10" stroke="#222" stroke-width="0.6"/>
<line x1="243.40" y1="475.10" x2="246.00" y2="475.10" stroke="#222" stroke-width="0.6"/>
<rect x="242.95" y="471.85" width="3.5" height="3.5" fill="#111"/>
<line x1="261.40" y1="466.40" x2="261.40" y2="470.80" stroke="#222" stroke-width="0.6"/>
<line x1="260.10" y1="466.40" x2="262.70" y2="466.40" stroke="#222" stroke-width="0.6"/>
<line x1="260.10" y1="470.80" x2="262.70" y2="470.80" stroke="#222" stroke-width="0.6"/>
<rect x="259.65" y="466.85" width="3.5" height="3.5" fill="#111"/>
<line x1="278.00" y1="458.90" x2="278.00" y2="464.10" stroke="#222" stroke-width="0.6"/>
<line x1="276.70" y1="458.90" x2="279.30" y2="458.90" stroke="#222" stroke-width="0.6"/>
<line x1="276.70" y1="464.10" x2="279.30" y2="464.10" stroke="#222" stroke-width="0.6"/>
<rect x="276.25" y="459.75" width="3.5" height="3.5" fill="#111"/>
<line x1="311.20" y1="444.60" x2="311.20" y2="448.20" stroke="#222" stroke-width="0.6"/>
<line x1="309.90" y1="444.60" x2="312.50" y2="444.60" stroke="#222" stroke-width="0.6"/>
<line x1="309.90" y1="448.20" x2="312.50" y2="448.20" stroke="#222" stroke-width="0.6"/>
<rect x="309.45" y="444.65" width="3.5" height="3.5" fill="#111"/>
<polyline points="228.1,485.0 244.7,481.7 261.4,477.5 278.0,469.6 311.2,456.2" fill="none" stroke="#111" stroke-width="0.8"/>
<line x1="228.10" y1="482.40" x2="228.10" y2="487.60" stroke="#222" stroke-width="0.6"/>
<line x1="226.80" y1="482.40" x2="229.40" y2="482.40" stroke="#222" stroke-width="0.6"/>
<line x1="226.80" y1="487.60" x2="229.40" y2="487.60" stroke="#222" stroke-width="0.6"/>
<path d="M228.1,483.1 L230.0,486.4 L226.2,486.4 Z" fill="#111"/>
<line x1="244.70" y1="479.50" x2="244.70" y2="483.90" stroke="#222" stroke-width="0.6"/>
<line x1="243.40" y1="479.50" x2="246.00" y2="479.50" stroke="#222" stroke-width="0.6"/>
<line x1="243.40" y1="483.90" x2="246.00" y2="483.90" stroke="#222" stroke-width="0.6"/>
<path d="M244.7,479.8 L246.6,483.1 L242.8,483.1 Z" fill="#111"/>
<line x1="261.40" y1="474.70" x2="261.40" y2="480.30" stroke="#222" stroke-width="0.6"/>
<line x1="260.10" y1="474.70" x2="262.70" y2="474.70" stroke="#222" stroke-width="0.6"/>
<line x1="260.10" y1="480.30" x2="262.70" y2="480.30" stroke="#222" stroke-width="0.6"/>
<path d="M261.4,475.6 L263.3,478.9 L259.5,478.9 Z" fill="#111"/>
<line x1="278.00" y1="467.40" x2="278.00" y2="471.80" stroke="#222" stroke-width="0.6"/>
<line x1="276.70" y1="467.40" x2="279.30" y2="467.40" stroke="#222" stroke-width="0.6"/>
<line x1="276.70" y1="471.80" x2="279.30" y2="471.80" stroke="#222" stroke-width="0.6"/>
<path d="M278.0,467.7 L279.9,471.0 L276.1,471.0 Z" fill="#111"/>
<line x1="311.20" y1="454.20" x2="311.20" y2="458.20" stroke="#222" stroke-width="0.6"/>
<line x1="309.90" y1="454.20" x2="312.50" y2="454.20" stroke="#222" stroke-width="0.6"/>
<line x1="309.90" y1="458.20" x2="312.50" y2="458.20" stroke="#222" stroke-width="0.6"/>
<path d="M311.2,454.3 L313.1,457.6 L309.3,457.6 Z" fill="#111"/>
<line x1="216.20" y1="427.30" x2="225.20" y2="427.30" stroke="#111" stroke-width="0.8"/>
<circle cx="221.0" cy="427.3" r="2.1" fill="#111"/>
<text x="228.60" y="430.10" font-size="8.94" stroke-width="0.55" textLength="23.10" lengthAdjust="spacingAndGlyphs">siCTL</text>
<line x1="216.20" y1="438.60" x2="225.20" y2="438.60" stroke="#111" stroke-width="0.8"/>
<rect x="219.25" y="436.85" width="3.5" height="3.5" fill="#111"/>
<text x="228.60" y="441.40" font-size="8.94" stroke-width="0.55" textLength="34.60" lengthAdjust="spacingAndGlyphs">siUCHL1</text>
<line x1="216.20" y1="450.00" x2="225.20" y2="450.00" stroke="#111" stroke-width="0.8"/>
<path d="M221.0,448.1 L222.9,451.4 L219.1,451.4 Z" fill="#111"/>
<text x="228.60" y="452.80" font-size="8.94" stroke-width="0.55" textLength="29.70" lengthAdjust="spacingAndGlyphs">siAPEH</text>
<text x="357.80" y="413.90" font-size="14.4" font-weight="bold" fill="#000" stroke="none">L</text>
<rect x="388.60" y="440.20" width="20.20" height="63.80" fill="#8e8e8e" stroke="#1a1a1a" stroke-width="0.8"/>
<rect x="408.80" y="460.50" width="20.40" height="43.50" fill="#d8d8d8" stroke="#1a1a1a" stroke-width="0.8"/>
<rect x="432.70" y="440.20" width="20.90" height="63.80" fill="#8e8e8e" stroke="#1a1a1a" stroke-width="0.8"/>
<rect x="453.60" y="462.10" width="20.60" height="41.90" fill="#d8d8d8" stroke="#1a1a1a" stroke-width="0.8"/>
<rect x="478.10" y="440.20" width="20.60" height="63.80" fill="#8e8e8e" stroke="#1a1a1a" stroke-width="0.8"/>
<rect x="498.70" y="466.40" width="20.60" height="37.60" fill="#d8d8d8" stroke="#1a1a1a" stroke-width="0.8"/>
<line x1="398.00" y1="435.00" x2="398.00" y2="445.80" stroke="#222" stroke-width="0.8"/>
<line x1="395.70" y1="435.00" x2="400.30" y2="435.00" stroke="#222" stroke-width="0.8"/>
<line x1="395.70" y1="445.80" x2="400.30" y2="445.80" stroke="#222" stroke-width="0.8"/>
<line x1="418.60" y1="453.90" x2="418.60" y2="467.00" stroke="#222" stroke-width="0.8"/>
<line x1="416.30" y1="453.90" x2="420.90" y2="453.90" stroke="#222" stroke-width="0.8"/>
<line x1="416.30" y1="467.00" x2="420.90" y2="467.00" stroke="#222" stroke-width="0.8"/>
<line x1="443.20" y1="435.30" x2="443.20" y2="445.10" stroke="#222" stroke-width="0.8"/>
<line x1="440.90" y1="435.30" x2="445.50" y2="435.30" stroke="#222" stroke-width="0.8"/>
<line x1="440.90" y1="445.10" x2="445.50" y2="445.10" stroke="#222" stroke-width="0.8"/>
<line x1="463.80" y1="456.20" x2="463.80" y2="468.00" stroke="#222" stroke-width="0.8"/>
<line x1="461.50" y1="456.20" x2="466.10" y2="456.20" stroke="#222" stroke-width="0.8"/>
<line x1="461.50" y1="468.00" x2="466.10" y2="468.00" stroke="#222" stroke-width="0.8"/>
<line x1="488.30" y1="432.70" x2="488.30" y2="447.40" stroke="#222" stroke-width="0.8"/>
<line x1="486.00" y1="432.70" x2="490.60" y2="432.70" stroke="#222" stroke-width="0.8"/>
<line x1="486.00" y1="447.40" x2="490.60" y2="447.40" stroke="#222" stroke-width="0.8"/>
<line x1="509.20" y1="460.50" x2="509.20" y2="472.60" stroke="#222" stroke-width="0.8"/>
<line x1="506.90" y1="460.50" x2="511.50" y2="460.50" stroke="#222" stroke-width="0.8"/>
<line x1="506.90" y1="472.60" x2="511.50" y2="472.60" stroke="#222" stroke-width="0.8"/>
<text x="418.60" y="453.09" font-size="7.19" text-anchor="middle">*</text>
<text x="463.80" y="454.79" font-size="7.19" text-anchor="middle">*</text>
<text x="509.20" y="457.99" font-size="7.19" text-anchor="middle">*</text>
<line x1="408.80" y1="504.00" x2="408.80" y2="506.80" stroke="#111" stroke-width="0.9"/>
<line x1="453.60" y1="504.00" x2="453.60" y2="506.80" stroke="#111" stroke-width="0.9"/>
<line x1="498.70" y1="504.00" x2="498.70" y2="506.80" stroke="#111" stroke-width="0.9"/>
<line x1="385.00" y1="421.20" x2="385.00" y2="504.45" stroke="#111" stroke-width="0.9"/>
<line x1="384.55" y1="504.00" x2="520.00" y2="504.00" stroke="#111" stroke-width="0.9"/>
<line x1="382.50" y1="440.20" x2="385.00" y2="440.20" stroke="#111" stroke-width="0.9"/>
<text x="381.80" y="443.30" font-size="9.37" text-anchor="end" stroke-width="0.55">1.0</text>
<line x1="382.50" y1="472.00" x2="385.00" y2="472.00" stroke="#111" stroke-width="0.9"/>
<text x="381.80" y="475.10" font-size="9.37" text-anchor="end" stroke-width="0.55">0.5</text>
<line x1="382.50" y1="504.00" x2="385.00" y2="504.00" stroke="#111" stroke-width="0.9"/>
<text x="381.80" y="507.10" font-size="9.37" text-anchor="end" stroke-width="0.55">0.0</text>
<rect x="391.30" y="421.40" width="14.50" height="5.20" fill="#8e8e8e" stroke="#1a1a1a" stroke-width="0.7"/>
<text x="412.40" y="427.00" font-size="9.16" stroke-width="0.55" textLength="23.60" lengthAdjust="spacingAndGlyphs">siCTL</text>
<rect x="444.80" y="421.40" width="13.70" height="5.20" fill="#d8d8d8" stroke="#1a1a1a" stroke-width="0.7"/>
<text x="466.00" y="427.00" font-size="9.16" stroke-width="0.55" textLength="30.10" lengthAdjust="spacingAndGlyphs">siAPEH</text>
<text x="363.31" y="464.70" font-size="10.03" text-anchor="middle" textLength="83.00" lengthAdjust="spacingAndGlyphs" transform="rotate(-90 363.31 464.70)">Proteasome activity</text>
<text x="384.40" y="517.30" font-size="9.59" textLength="44.80" lengthAdjust="spacingAndGlyphs">Kuramochi</text>
<text x="433.40" y="517.30" font-size="9.59" textLength="39.80" lengthAdjust="spacingAndGlyphs">OVCAR3</text>
<text x="477.50" y="517.30" font-size="9.59" textLength="38.20" lengthAdjust="spacingAndGlyphs">OVCAR4</text>
<text x="1.20" y="544.40" font-size="14.4" font-weight="bold" fill="#000" stroke="none">M</text>
<rect x="44.00" y="572.60" width="19.30" height="64.00" fill="#8e8e8e" stroke="#1a1a1a" stroke-width="0.8"/>
<rect x="63.30" y="600.50" width="19.10" height="36.10" fill="#d8d8d8" stroke="#1a1a1a" stroke-width="0.8"/>
<rect x="101.30" y="572.60" width="19.00" height="64.00" fill="#8e8e8e" stroke="#1a1a1a" stroke-width="0.8"/>
<rect x="120.30" y="596.60" width="18.60" height="40.00" fill="#d8d8d8" stroke="#1a1a1a" stroke-width="0.8"/>
<line x1="53.60" y1="566.00" x2="53.60" y2="579.00" stroke="#222" stroke-width="0.8"/>
<line x1="51.30" y1="566.00" x2="55.90" y2="566.00" stroke="#222" stroke-width="0.8"/>
<line x1="51.30" y1="579.00" x2="55.90" y2="579.00" stroke="#222" stroke-width="0.8"/>
<line x1="72.00" y1="594.70" x2="72.00" y2="606.80" stroke="#222" stroke-width="0.8"/>
<line x1="69.70" y1="594.70" x2="74.30" y2="594.70" stroke="#222" stroke-width="0.8"/>
<line x1="69.70" y1="606.80" x2="74.30" y2="606.80" stroke="#222" stroke-width="0.8"/>
<line x1="110.80" y1="569.90" x2="110.80" y2="575.80" stroke="#222" stroke-width="0.8"/>
<line x1="108.50" y1="569.90" x2="113.10" y2="569.90" stroke="#222" stroke-width="0.8"/>
<line x1="108.50" y1="575.80" x2="113.10" y2="575.80" stroke="#222" stroke-width="0.8"/>
<line x1="129.80" y1="592.10" x2="129.80" y2="600.30" stroke="#222" stroke-width="0.8"/>
<line x1="127.50" y1="592.10" x2="132.10" y2="592.10" stroke="#222" stroke-width="0.8"/>
<line x1="127.50" y1="600.30" x2="132.10" y2="600.30" stroke="#222" stroke-width="0.8"/>
<text x="71.80" y="592.89" font-size="7.19" text-anchor="middle">*</text>
<text x="129.80" y="590.29" font-size="7.19" text-anchor="middle">*</text>
<line x1="63.30" y1="636.60" x2="63.30" y2="639.40" stroke="#111" stroke-width="0.9"/>
<line x1="120.30" y1="636.60" x2="120.30" y2="639.40" stroke="#111" stroke-width="0.9"/>
<line x1="38.70" y1="560.00" x2="38.70" y2="637.05" stroke="#111" stroke-width="0.9"/>
<line x1="38.25" y1="636.60" x2="148.70" y2="636.60" stroke="#111" stroke-width="0.9"/>
<line x1="36.20" y1="572.60" x2="38.70" y2="572.60" stroke="#111" stroke-width="0.9"/>
<text x="35.20" y="575.62" font-size="9.16" text-anchor="end" stroke-width="0.55">1.0</text>
<line x1="36.20" y1="604.60" x2="38.70" y2="604.60" stroke="#111" stroke-width="0.9"/>
<text x="35.20" y="607.62" font-size="9.16" text-anchor="end" stroke-width="0.55">0.5</text>
<line x1="36.20" y1="636.60" x2="38.70" y2="636.60" stroke="#111" stroke-width="0.9"/>
<text x="35.20" y="639.62" font-size="9.16" text-anchor="end" stroke-width="0.55">0.0</text>
<rect x="44.60" y="554.10" width="11.40" height="5.30" fill="#8e8e8e" stroke="#1a1a1a" stroke-width="0.7"/>
<text x="62.70" y="559.50" font-size="9.16" stroke-width="0.55" textLength="22.10" lengthAdjust="spacingAndGlyphs">siCTL</text>
<rect x="93.20" y="554.10" width="12.10" height="5.30" fill="#d8d8d8" stroke="#1a1a1a" stroke-width="0.7"/>
<text x="111.10" y="559.50" font-size="9.16" stroke-width="0.55" textLength="30.10" lengthAdjust="spacingAndGlyphs">siAPEH</text>
<text x="14.76" y="602.00" font-size="9.59" text-anchor="middle" textLength="67.00" lengthAdjust="spacingAndGlyphs" transform="rotate(-90 14.76 602.00)">Cell proliferation</text>
<text x="44.00" y="650.60" font-size="9.59" textLength="38.00" lengthAdjust="spacingAndGlyphs">OVCAR4</text>
<text x="97.10" y="650.60" font-size="9.59" textLength="45.10" lengthAdjust="spacingAndGlyphs">Kuramochi</text>
<text x="177.80" y="545.20" font-size="14.4" font-weight="bold" fill="#000" stroke="none">N</text>
<line x1="234.40" y1="617.60" x2="234.40" y2="620.90" stroke="#111" stroke-width="0.9"/>
<line x1="271.30" y1="617.60" x2="271.30" y2="620.90" stroke="#111" stroke-width="0.9"/>
<rect x="219.70" y="559.40" width="28.80" height="58.20" fill="#9a9a9a" stroke="#1a1a1a" stroke-width="0.8"/>
<rect x="256.60" y="586.20" width="28.80" height="31.40" fill="#d8d8d8" stroke="#1a1a1a" stroke-width="0.8"/>
<line x1="234.40" y1="553.90" x2="234.40" y2="564.30" stroke="#222" stroke-width="0.8"/>
<line x1="232.10" y1="553.90" x2="236.70" y2="553.90" stroke="#222" stroke-width="0.8"/>
<line x1="232.10" y1="564.30" x2="236.70" y2="564.30" stroke="#222" stroke-width="0.8"/>
<line x1="271.30" y1="583.00" x2="271.30" y2="589.50" stroke="#222" stroke-width="0.8"/>
<line x1="269.00" y1="583.00" x2="273.60" y2="583.00" stroke="#222" stroke-width="0.8"/>
<line x1="269.00" y1="589.50" x2="273.60" y2="589.50" stroke="#222" stroke-width="0.8"/>
<text x="271.30" y="582.49" font-size="7.19" text-anchor="middle">*</text>
<line x1="211.80" y1="548.00" x2="211.80" y2="618.05" stroke="#111" stroke-width="0.9"/>
<line x1="211.35" y1="617.60" x2="294.20" y2="617.60" stroke="#111" stroke-width="0.9"/>
<line x1="209.30" y1="559.40" x2="211.80" y2="559.40" stroke="#111" stroke-width="0.9"/>
<text x="208.60" y="562.10" font-size="8.18" text-anchor="end" stroke-width="0.55">1.0</text>
<line x1="209.30" y1="588.40" x2="211.80" y2="588.40" stroke="#111" stroke-width="0.9"/>
<text x="208.60" y="591.10" font-size="8.18" text-anchor="end" stroke-width="0.55">0.5</text>
<line x1="209.30" y1="617.60" x2="211.80" y2="617.60" stroke="#111" stroke-width="0.9"/>
<text x="208.60" y="620.30" font-size="8.18" text-anchor="end" stroke-width="0.55">0.0</text>
<text x="189.01" y="592.00" font-size="9.16" text-anchor="middle" textLength="70.00" lengthAdjust="spacingAndGlyphs" transform="rotate(-90 189.01 592.00)">Colony formation</text>
<text x="221.90" y="630.60" font-size="9.37" stroke-width="0.55" textLength="24.40" lengthAdjust="spacingAndGlyphs">siCTL</text>
<text x="255.40" y="630.60" font-size="9.37" stroke-width="0.55" textLength="32.30" lengthAdjust="spacingAndGlyphs">siAPEH</text>
<defs><radialGradient id="w1" cx="0.5" cy="0.5" r="0.5"><stop offset="0" stop-color="#8f8ba3"/><stop offset="0.6" stop-color="#8a869f"/><stop offset="0.86" stop-color="#7f7a98"/><stop offset="0.93" stop-color="#e9e7f2"/><stop offset="1" stop-color="#a9a4c2"/></radialGradient><radialGradient id="w2" cx="0.5" cy="0.5" r="0.5"><stop offset="0" stop-color="#9d99b1"/><stop offset="0.6" stop-color="#9793ac"/><stop offset="0.86" stop-color="#8a86a2"/><stop offset="0.93" stop-color="#ecebf4"/><stop offset="1" stop-color="#aaa5c3"/></radialGradient><linearGradient id="wb" x1="0" y1="0" x2="0" y2="1"><stop offset="0" stop-color="#cdc9e0"/><stop offset="0.3" stop-color="#bcb7d3"/><stop offset="1" stop-color="#b2adcb"/></linearGradient><clipPath id="cw"><rect x="216.9" y="634.2" width="77.5" height="39.3"/></clipPath></defs>
<rect x="216.90" y="634.20" width="77.50" height="39.30" fill="url(#wb)" stroke="none" stroke-width="0.8"/>
<g clip-path="url(#cw)" filter="url(#b3)"><circle cx="236.7" cy="653.3" r="19.3" fill="url(#w1)"/><circle cx="275.2" cy="653.3" r="19.3" fill="url(#w2)"/></g>
<text x="358.40" y="545.20" font-size="14.4" font-weight="bold" fill="#000" stroke="none">O</text>
<rect x="397.10" y="584.70" width="26.70" height="51.60" fill="#333" stroke="#1a1a1a" stroke-width="0.8"/>
<rect x="423.80" y="559.40" width="26.30" height="76.90" fill="#d8d8d8" stroke="#1a1a1a" stroke-width="0.8"/>
<rect x="458.20" y="606.80" width="26.10" height="29.50" fill="#333" stroke="#1a1a1a" stroke-width="0.8"/>
<rect x="484.30" y="591.30" width="26.30" height="45.00" fill="#d8d8d8" stroke="#1a1a1a" stroke-width="0.8"/>
<line x1="410.30" y1="579.20" x2="410.30" y2="589.50" stroke="#222" stroke-width="0.8"/>
<line x1="408.00" y1="579.20" x2="412.60" y2="579.20" stroke="#222" stroke-width="0.8"/>
<line x1="408.00" y1="589.50" x2="412.60" y2="589.50" stroke="#222" stroke-width="0.8"/>
<line x1="436.90" y1="553.20" x2="436.90" y2="565.30" stroke="#222" stroke-width="0.8"/>
<line x1="434.60" y1="553.20" x2="439.20" y2="553.20" stroke="#222" stroke-width="0.8"/>
<line x1="434.60" y1="565.30" x2="439.20" y2="565.30" stroke="#222" stroke-width="0.8"/>
<line x1="470.80" y1="602.70" x2="470.80" y2="610.30" stroke="#222" stroke-width="0.8"/>
<line x1="468.50" y1="602.70" x2="473.10" y2="602.70" stroke="#222" stroke-width="0.8"/>
<line x1="468.50" y1="610.30" x2="473.10" y2="610.30" stroke="#222" stroke-width="0.8"/>
<line x1="497.50" y1="583.70" x2="497.50" y2="597.50" stroke="#222" stroke-width="0.8"/>
<line x1="495.20" y1="583.70" x2="499.80" y2="583.70" stroke="#222" stroke-width="0.8"/>
<line x1="495.20" y1="597.50" x2="499.80" y2="597.50" stroke="#222" stroke-width="0.8"/>
<text x="470.80" y="602.09" font-size="7.19" text-anchor="middle">*</text>
<text x="497.50" y="581.29" font-size="7.19" text-anchor="middle">*</text>
<line x1="389.50" y1="543.80" x2="389.50" y2="636.75" stroke="#111" stroke-width="0.9"/>
<line x1="389.05" y1="636.30" x2="520.00" y2="636.30" stroke="#111" stroke-width="0.9"/>
<line x1="387.30" y1="558.40" x2="389.50" y2="558.40" stroke="#111" stroke-width="0.9"/>
<text x="385.00" y="560.78" font-size="7.19" text-anchor="end" stroke-width="0.55">1.5</text>
<line x1="387.30" y1="584.70" x2="389.50" y2="584.70" stroke="#111" stroke-width="0.9"/>
<text x="385.00" y="587.08" font-size="7.19" text-anchor="end" stroke-width="0.55">1.0</text>
<line x1="387.30" y1="610.40" x2="389.50" y2="610.40" stroke="#111" stroke-width="0.9"/>
<text x="385.00" y="612.78" font-size="7.19" text-anchor="end" stroke-width="0.55">0.5</text>
<line x1="387.30" y1="636.30" x2="389.50" y2="636.30" stroke="#111" stroke-width="0.9"/>
<text x="385.00" y="638.68" font-size="7.19" text-anchor="end" stroke-width="0.55">0.0</text>
<text x="356.08" y="594.00" font-size="9.37" text-anchor="middle" textLength="50.00" lengthAdjust="spacingAndGlyphs" transform="rotate(-90 356.08 594.00)">Proliferation</text>
<text x="368.68" y="594.20" font-size="9.37" text-anchor="middle" textLength="55.50" lengthAdjust="spacingAndGlyphs" transform="rotate(-90 368.68 594.20)">(fold change)</text>
<text x="399.50" y="648.80" font-size="8.28" textLength="48.80" lengthAdjust="spacingAndGlyphs">Empty APEH</text>
<line x1="400.00" y1="653.50" x2="449.00" y2="653.50" stroke="#111" stroke-width="0.8"/>
<text x="423.80" y="664.40" font-size="9.16" text-anchor="middle" textLength="24.00" lengthAdjust="spacingAndGlyphs">siCTL</text>
<text x="460.10" y="648.80" font-size="8.28" textLength="49.50" lengthAdjust="spacingAndGlyphs">Empty APEH</text>
<line x1="460.30" y1="653.50" x2="510.30" y2="653.50" stroke="#111" stroke-width="0.8"/>
<line x1="410.30" y1="636.30" x2="410.30" y2="638.60" stroke="#111" stroke-width="0.8"/>
<line x1="436.70" y1="636.30" x2="436.70" y2="638.60" stroke="#111" stroke-width="0.8"/>
<line x1="470.80" y1="636.30" x2="470.80" y2="638.60" stroke="#111" stroke-width="0.8"/>
<line x1="497.50" y1="636.30" x2="497.50" y2="638.60" stroke="#111" stroke-width="0.8"/>
<text x="486.90" y="664.50" font-size="9.16" text-anchor="middle" textLength="36.70" lengthAdjust="spacingAndGlyphs">siUCHL1</text>
</svg>
</body></html>
